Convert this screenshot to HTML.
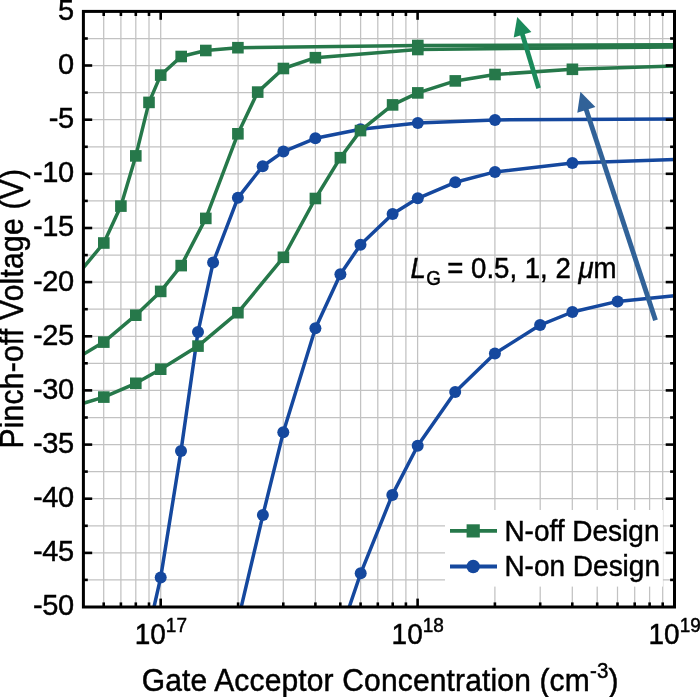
<!DOCTYPE html>
<html><head><meta charset="utf-8"><title>Pinch-off Voltage vs Gate Acceptor Concentration</title>
<style>html,body{margin:0;padding:0;background:#fff}svg{display:block}text{font-family:"Liberation Sans",Arial,Helvetica,sans-serif;fill:#000;stroke:#000;stroke-width:0.45px}</style></head><body>
<svg width="700" height="697" viewBox="0 0 700 697">
<rect width="700" height="697" fill="#fff"/>
<defs><clipPath id="c"><rect x="83.4" y="11.4" width="591.1" height="595.6"/></clipPath></defs>
<g stroke="#c2c2c2" stroke-width="1.25" fill="none">
<line x1="103.7" y1="11.4" x2="103.7" y2="607.0"/>
<line x1="120.9" y1="11.4" x2="120.9" y2="607.0"/>
<line x1="135.8" y1="11.4" x2="135.8" y2="607.0"/>
<line x1="149.0" y1="11.4" x2="149.0" y2="607.0"/>
<line x1="160.7" y1="11.4" x2="160.7" y2="607.0"/>
<line x1="238.1" y1="11.4" x2="238.1" y2="607.0"/>
<line x1="283.3" y1="11.4" x2="283.3" y2="607.0"/>
<line x1="315.4" y1="11.4" x2="315.4" y2="607.0"/>
<line x1="340.3" y1="11.4" x2="340.3" y2="607.0"/>
<line x1="360.6" y1="11.4" x2="360.6" y2="607.0"/>
<line x1="377.8" y1="11.4" x2="377.8" y2="607.0"/>
<line x1="392.7" y1="11.4" x2="392.7" y2="607.0"/>
<line x1="405.9" y1="11.4" x2="405.9" y2="607.0"/>
<line x1="417.6" y1="11.4" x2="417.6" y2="607.0"/>
<line x1="494.9" y1="11.4" x2="494.9" y2="607.0"/>
<line x1="540.2" y1="11.4" x2="540.2" y2="607.0"/>
<line x1="572.3" y1="11.4" x2="572.3" y2="607.0"/>
<line x1="597.2" y1="11.4" x2="597.2" y2="607.0"/>
<line x1="617.5" y1="11.4" x2="617.5" y2="607.0"/>
<line x1="634.7" y1="11.4" x2="634.7" y2="607.0"/>
<line x1="649.6" y1="11.4" x2="649.6" y2="607.0"/>
<line x1="662.7" y1="11.4" x2="662.7" y2="607.0"/>
<line x1="83.4" y1="38.5" x2="674.5" y2="38.5"/>
<line x1="83.4" y1="65.5" x2="674.5" y2="65.5"/>
<line x1="83.4" y1="92.6" x2="674.5" y2="92.6"/>
<line x1="83.4" y1="119.7" x2="674.5" y2="119.7"/>
<line x1="83.4" y1="146.8" x2="674.5" y2="146.8"/>
<line x1="83.4" y1="173.8" x2="674.5" y2="173.8"/>
<line x1="83.4" y1="200.9" x2="674.5" y2="200.9"/>
<line x1="83.4" y1="228.0" x2="674.5" y2="228.0"/>
<line x1="83.4" y1="255.1" x2="674.5" y2="255.1"/>
<line x1="83.4" y1="282.1" x2="674.5" y2="282.1"/>
<line x1="83.4" y1="309.2" x2="674.5" y2="309.2"/>
<line x1="83.4" y1="336.3" x2="674.5" y2="336.3"/>
<line x1="83.4" y1="363.3" x2="674.5" y2="363.3"/>
<line x1="83.4" y1="390.4" x2="674.5" y2="390.4"/>
<line x1="83.4" y1="417.5" x2="674.5" y2="417.5"/>
<line x1="83.4" y1="444.6" x2="674.5" y2="444.6"/>
<line x1="83.4" y1="471.6" x2="674.5" y2="471.6"/>
<line x1="83.4" y1="498.7" x2="674.5" y2="498.7"/>
<line x1="83.4" y1="525.8" x2="674.5" y2="525.8"/>
<line x1="83.4" y1="552.9" x2="674.5" y2="552.9"/>
<line x1="83.4" y1="579.9" x2="674.5" y2="579.9"/>
</g>
<rect x="445" y="510" width="217.9" height="76.6" fill="#fff"/>
<g clip-path="url(#c)">
<polyline fill="none" stroke="#15489e" stroke-width="3.5" stroke-linejoin="round" points="149.0,629.0 160.7,577.4 181.0,450.9 198.0,332.1 213.1,262.6 237.9,197.8 262.7,166.2 283.4,151.6 315.4,138.3 360.5,129.3 417.8,123.0 495.0,119.9 674.5,118.9 700.0,118.8"/>
</g>
<circle cx="160.7" cy="577.4" r="6" fill="#15489e"/>
<circle cx="181.0" cy="450.9" r="6" fill="#15489e"/>
<circle cx="198.0" cy="332.1" r="6" fill="#15489e"/>
<circle cx="213.1" cy="262.6" r="6" fill="#15489e"/>
<circle cx="237.9" cy="197.8" r="6" fill="#15489e"/>
<circle cx="262.7" cy="166.2" r="6" fill="#15489e"/>
<circle cx="283.4" cy="151.6" r="6" fill="#15489e"/>
<circle cx="315.4" cy="138.3" r="6" fill="#15489e"/>
<circle cx="360.5" cy="129.3" r="6" fill="#15489e"/>
<circle cx="417.8" cy="123.0" r="6" fill="#15489e"/>
<circle cx="495.0" cy="119.9" r="6" fill="#15489e"/>
<g clip-path="url(#c)">
<polyline fill="none" stroke="#15489e" stroke-width="3.5" stroke-linejoin="round" points="237.9,621.1 262.9,515.1 283.3,432.3 315.4,328.3 340.4,274.3 360.5,244.7 392.6,214.1 417.8,198.3 455.3,182.3 495.0,171.9 572.4,163.0 674.5,159.6 700.0,159.3"/>
</g>
<circle cx="262.9" cy="515.1" r="6" fill="#15489e"/>
<circle cx="283.3" cy="432.3" r="6" fill="#15489e"/>
<circle cx="315.4" cy="328.3" r="6" fill="#15489e"/>
<circle cx="340.4" cy="274.3" r="6" fill="#15489e"/>
<circle cx="360.5" cy="244.7" r="6" fill="#15489e"/>
<circle cx="392.6" cy="214.1" r="6" fill="#15489e"/>
<circle cx="417.8" cy="198.3" r="6" fill="#15489e"/>
<circle cx="455.3" cy="182.3" r="6" fill="#15489e"/>
<circle cx="495.0" cy="171.9" r="6" fill="#15489e"/>
<circle cx="572.4" cy="163.0" r="6" fill="#15489e"/>
<g clip-path="url(#c)">
<polyline fill="none" stroke="#15489e" stroke-width="3.5" stroke-linejoin="round" points="340.4,633.0 360.7,573.3 392.3,494.9 417.7,445.7 455.2,392.1 494.9,353.4 540.1,325.1 572.4,312.0 617.6,301.4 674.5,295.7 700.0,294.0"/>
</g>
<circle cx="360.7" cy="573.3" r="6" fill="#15489e"/>
<circle cx="392.3" cy="494.9" r="6" fill="#15489e"/>
<circle cx="417.7" cy="445.7" r="6" fill="#15489e"/>
<circle cx="455.2" cy="392.1" r="6" fill="#15489e"/>
<circle cx="494.9" cy="353.4" r="6" fill="#15489e"/>
<circle cx="540.1" cy="325.1" r="6" fill="#15489e"/>
<circle cx="572.4" cy="312.0" r="6" fill="#15489e"/>
<circle cx="617.6" cy="301.4" r="6" fill="#15489e"/>
<g clip-path="url(#c)">
<polyline fill="none" stroke="#26784a" stroke-width="3.5" stroke-linejoin="round" points="58.5,290.0 83.4,267.6 103.8,243.0 120.9,206.1 135.8,155.9 149.0,102.4 160.7,75.1 181.2,56.5 205.8,50.5 237.9,47.7 417.8,45.5 674.5,44.8 700.0,44.8"/>
</g>
<rect x="98.0" y="237.2" width="11.6" height="11.6" fill="#26784a"/>
<rect x="115.1" y="200.3" width="11.6" height="11.6" fill="#26784a"/>
<rect x="130.0" y="150.1" width="11.6" height="11.6" fill="#26784a"/>
<rect x="143.2" y="96.6" width="11.6" height="11.6" fill="#26784a"/>
<rect x="154.9" y="69.3" width="11.6" height="11.6" fill="#26784a"/>
<rect x="175.4" y="50.7" width="11.6" height="11.6" fill="#26784a"/>
<rect x="200.0" y="44.7" width="11.6" height="11.6" fill="#26784a"/>
<rect x="232.1" y="41.9" width="11.6" height="11.6" fill="#26784a"/>
<rect x="412.0" y="39.7" width="11.6" height="11.6" fill="#26784a"/>
<g clip-path="url(#c)">
<polyline fill="none" stroke="#26784a" stroke-width="3.5" stroke-linejoin="round" points="58.5,360.0 83.4,354.3 103.8,342.1 135.8,315.2 160.7,291.4 181.2,265.6 205.8,218.4 237.9,133.8 257.7,92.1 283.4,68.5 315.4,57.7 417.8,49.5 674.5,47.0 700.0,46.9"/>
</g>
<rect x="98.0" y="336.3" width="11.6" height="11.6" fill="#26784a"/>
<rect x="130.0" y="309.4" width="11.6" height="11.6" fill="#26784a"/>
<rect x="154.9" y="285.6" width="11.6" height="11.6" fill="#26784a"/>
<rect x="175.4" y="259.8" width="11.6" height="11.6" fill="#26784a"/>
<rect x="200.0" y="212.6" width="11.6" height="11.6" fill="#26784a"/>
<rect x="232.1" y="128.0" width="11.6" height="11.6" fill="#26784a"/>
<rect x="251.9" y="86.3" width="11.6" height="11.6" fill="#26784a"/>
<rect x="277.6" y="62.7" width="11.6" height="11.6" fill="#26784a"/>
<rect x="309.6" y="51.9" width="11.6" height="11.6" fill="#26784a"/>
<rect x="412.0" y="43.7" width="11.6" height="11.6" fill="#26784a"/>
<g clip-path="url(#c)">
<polyline fill="none" stroke="#26784a" stroke-width="3.5" stroke-linejoin="round" points="58.5,406.0 83.4,403.2 103.8,397.1 135.8,383.3 160.7,369.2 198.0,346.1 237.9,312.7 283.4,257.3 315.4,198.5 340.4,157.7 360.5,130.6 392.6,104.9 417.8,92.9 455.3,80.9 495.0,74.5 572.4,69.3 674.5,65.9 700.0,65.5"/>
</g>
<rect x="98.0" y="391.3" width="11.6" height="11.6" fill="#26784a"/>
<rect x="130.0" y="377.5" width="11.6" height="11.6" fill="#26784a"/>
<rect x="154.9" y="363.4" width="11.6" height="11.6" fill="#26784a"/>
<rect x="192.2" y="340.3" width="11.6" height="11.6" fill="#26784a"/>
<rect x="232.1" y="306.9" width="11.6" height="11.6" fill="#26784a"/>
<rect x="277.6" y="251.5" width="11.6" height="11.6" fill="#26784a"/>
<rect x="309.6" y="192.7" width="11.6" height="11.6" fill="#26784a"/>
<rect x="334.6" y="151.9" width="11.6" height="11.6" fill="#26784a"/>
<rect x="354.7" y="124.8" width="11.6" height="11.6" fill="#26784a"/>
<rect x="386.8" y="99.1" width="11.6" height="11.6" fill="#26784a"/>
<rect x="412.0" y="87.1" width="11.6" height="11.6" fill="#26784a"/>
<rect x="449.5" y="75.1" width="11.6" height="11.6" fill="#26784a"/>
<rect x="489.2" y="68.7" width="11.6" height="11.6" fill="#26784a"/>
<rect x="566.6" y="63.5" width="11.6" height="11.6" fill="#26784a"/>
<line x1="538.6" y1="88.3" x2="522.2" y2="33.8" stroke="#1b8a5b" stroke-width="4.7"/>
<polygon points="517.2,17.0 531.4,32.1 513.7,37.4" fill="#1b8a5b"/>
<line x1="655.5" y1="320.2" x2="586.0" y2="108.9" stroke="#316298" stroke-width="4.9"/>
<polygon points="580.4,91.8 595.4,106.9 577.3,112.8" fill="#316298"/>
<rect x="83.4" y="11.4" width="591.1" height="595.6" fill="none" stroke="#000" stroke-width="3"/>
<g stroke="#000" stroke-width="2.6">
<line x1="83.4" y1="38.5" x2="87.8" y2="38.5"/>
<line x1="674.5" y1="38.5" x2="670.1" y2="38.5"/>
<line x1="83.4" y1="65.5" x2="92.2" y2="65.5"/>
<line x1="674.5" y1="65.5" x2="665.7" y2="65.5"/>
<line x1="83.4" y1="92.6" x2="87.8" y2="92.6"/>
<line x1="674.5" y1="92.6" x2="670.1" y2="92.6"/>
<line x1="83.4" y1="119.7" x2="92.2" y2="119.7"/>
<line x1="674.5" y1="119.7" x2="665.7" y2="119.7"/>
<line x1="83.4" y1="146.8" x2="87.8" y2="146.8"/>
<line x1="674.5" y1="146.8" x2="670.1" y2="146.8"/>
<line x1="83.4" y1="173.8" x2="92.2" y2="173.8"/>
<line x1="674.5" y1="173.8" x2="665.7" y2="173.8"/>
<line x1="83.4" y1="200.9" x2="87.8" y2="200.9"/>
<line x1="674.5" y1="200.9" x2="670.1" y2="200.9"/>
<line x1="83.4" y1="228.0" x2="92.2" y2="228.0"/>
<line x1="674.5" y1="228.0" x2="665.7" y2="228.0"/>
<line x1="83.4" y1="255.1" x2="87.8" y2="255.1"/>
<line x1="674.5" y1="255.1" x2="670.1" y2="255.1"/>
<line x1="83.4" y1="282.1" x2="92.2" y2="282.1"/>
<line x1="674.5" y1="282.1" x2="665.7" y2="282.1"/>
<line x1="83.4" y1="309.2" x2="87.8" y2="309.2"/>
<line x1="674.5" y1="309.2" x2="670.1" y2="309.2"/>
<line x1="83.4" y1="336.3" x2="92.2" y2="336.3"/>
<line x1="674.5" y1="336.3" x2="665.7" y2="336.3"/>
<line x1="83.4" y1="363.3" x2="87.8" y2="363.3"/>
<line x1="674.5" y1="363.3" x2="670.1" y2="363.3"/>
<line x1="83.4" y1="390.4" x2="92.2" y2="390.4"/>
<line x1="674.5" y1="390.4" x2="665.7" y2="390.4"/>
<line x1="83.4" y1="417.5" x2="87.8" y2="417.5"/>
<line x1="674.5" y1="417.5" x2="670.1" y2="417.5"/>
<line x1="83.4" y1="444.6" x2="92.2" y2="444.6"/>
<line x1="674.5" y1="444.6" x2="665.7" y2="444.6"/>
<line x1="83.4" y1="471.6" x2="87.8" y2="471.6"/>
<line x1="674.5" y1="471.6" x2="670.1" y2="471.6"/>
<line x1="83.4" y1="498.7" x2="92.2" y2="498.7"/>
<line x1="674.5" y1="498.7" x2="665.7" y2="498.7"/>
<line x1="83.4" y1="525.8" x2="87.8" y2="525.8"/>
<line x1="674.5" y1="525.8" x2="670.1" y2="525.8"/>
<line x1="83.4" y1="552.9" x2="92.2" y2="552.9"/>
<line x1="674.5" y1="552.9" x2="665.7" y2="552.9"/>
<line x1="83.4" y1="579.9" x2="87.8" y2="579.9"/>
<line x1="674.5" y1="579.9" x2="670.1" y2="579.9"/>
<line x1="103.7" y1="11.4" x2="103.7" y2="16.0"/>
<line x1="103.7" y1="607.0" x2="103.7" y2="602.4"/>
<line x1="120.9" y1="11.4" x2="120.9" y2="16.0"/>
<line x1="120.9" y1="607.0" x2="120.9" y2="602.4"/>
<line x1="135.8" y1="11.4" x2="135.8" y2="16.0"/>
<line x1="135.8" y1="607.0" x2="135.8" y2="602.4"/>
<line x1="149.0" y1="11.4" x2="149.0" y2="16.0"/>
<line x1="149.0" y1="607.0" x2="149.0" y2="602.4"/>
<line x1="160.7" y1="11.4" x2="160.7" y2="19.8"/>
<line x1="160.7" y1="607.0" x2="160.7" y2="598.6"/>
<line x1="238.1" y1="11.4" x2="238.1" y2="16.0"/>
<line x1="238.1" y1="607.0" x2="238.1" y2="602.4"/>
<line x1="283.3" y1="11.4" x2="283.3" y2="16.0"/>
<line x1="283.3" y1="607.0" x2="283.3" y2="602.4"/>
<line x1="315.4" y1="11.4" x2="315.4" y2="16.0"/>
<line x1="315.4" y1="607.0" x2="315.4" y2="602.4"/>
<line x1="340.3" y1="11.4" x2="340.3" y2="16.0"/>
<line x1="340.3" y1="607.0" x2="340.3" y2="602.4"/>
<line x1="360.6" y1="11.4" x2="360.6" y2="16.0"/>
<line x1="360.6" y1="607.0" x2="360.6" y2="602.4"/>
<line x1="377.8" y1="11.4" x2="377.8" y2="16.0"/>
<line x1="377.8" y1="607.0" x2="377.8" y2="602.4"/>
<line x1="392.7" y1="11.4" x2="392.7" y2="16.0"/>
<line x1="392.7" y1="607.0" x2="392.7" y2="602.4"/>
<line x1="405.9" y1="11.4" x2="405.9" y2="16.0"/>
<line x1="405.9" y1="607.0" x2="405.9" y2="602.4"/>
<line x1="417.6" y1="11.4" x2="417.6" y2="19.8"/>
<line x1="417.6" y1="607.0" x2="417.6" y2="598.6"/>
<line x1="494.9" y1="11.4" x2="494.9" y2="16.0"/>
<line x1="494.9" y1="607.0" x2="494.9" y2="602.4"/>
<line x1="540.2" y1="11.4" x2="540.2" y2="16.0"/>
<line x1="540.2" y1="607.0" x2="540.2" y2="602.4"/>
<line x1="572.3" y1="11.4" x2="572.3" y2="16.0"/>
<line x1="572.3" y1="607.0" x2="572.3" y2="602.4"/>
<line x1="597.2" y1="11.4" x2="597.2" y2="16.0"/>
<line x1="597.2" y1="607.0" x2="597.2" y2="602.4"/>
<line x1="617.5" y1="11.4" x2="617.5" y2="16.0"/>
<line x1="617.5" y1="607.0" x2="617.5" y2="602.4"/>
<line x1="634.7" y1="11.4" x2="634.7" y2="16.0"/>
<line x1="634.7" y1="607.0" x2="634.7" y2="602.4"/>
<line x1="649.6" y1="11.4" x2="649.6" y2="16.0"/>
<line x1="649.6" y1="607.0" x2="649.6" y2="602.4"/>
<line x1="662.7" y1="11.4" x2="662.7" y2="16.0"/>
<line x1="662.7" y1="607.0" x2="662.7" y2="602.4"/>
</g>
<text x="73.9" y="19.8" font-size="29" letter-spacing="-0.35" text-anchor="end">5</text>
<text x="73.9" y="73.9" font-size="29" letter-spacing="-0.35" text-anchor="end">0</text>
<text x="73.9" y="128.1" font-size="29" letter-spacing="-0.35" text-anchor="end">-5</text>
<text x="73.9" y="182.2" font-size="29" letter-spacing="-0.35" text-anchor="end">-10</text>
<text x="73.9" y="236.4" font-size="29" letter-spacing="-0.35" text-anchor="end">-15</text>
<text x="73.9" y="290.5" font-size="29" letter-spacing="-0.35" text-anchor="end">-20</text>
<text x="73.9" y="344.7" font-size="29" letter-spacing="-0.35" text-anchor="end">-25</text>
<text x="73.9" y="398.8" font-size="29" letter-spacing="-0.35" text-anchor="end">-30</text>
<text x="73.9" y="453.0" font-size="29" letter-spacing="-0.35" text-anchor="end">-35</text>
<text x="73.9" y="507.1" font-size="29" letter-spacing="-0.35" text-anchor="end">-40</text>
<text x="73.9" y="561.3" font-size="29" letter-spacing="-0.35" text-anchor="end">-45</text>
<text x="73.9" y="615.4" font-size="29" letter-spacing="-0.35" text-anchor="end">-50</text>
<text transform="translate(134.7,643.5) scale(1,1.04)" font-size="28">10<tspan font-size="19" dy="-10.9">17</tspan></text>
<text transform="translate(391.6,643.5) scale(1,1.04)" font-size="28">10<tspan font-size="19" dy="-10.9">18</tspan></text>
<text transform="translate(648.5,643.5) scale(1,1.04)" font-size="28">10<tspan font-size="19" dy="-10.9">19</tspan></text>
<text transform="translate(141.7,690.8) scale(1,1.07)" font-size="30" letter-spacing="0.16">Gate Acceptor Concentration (cm<tspan font-size="20.5" dy="-12">-3</tspan><tspan dy="12">)</tspan></text>
<text transform="translate(22.5,448.6) rotate(-90) scale(1,1.08)" font-size="30" letter-spacing="0.25">Pinch-off Voltage (V)</text>
<text transform="translate(410.4,278.4) scale(1,1.06)" font-size="27.6"><tspan font-style="italic">L</tspan><tspan font-size="18.8" dy="6.6" dx="0.4">G</tspan><tspan dy="-6.6" dx="-1.2"> = 0.5, 1, 2 </tspan><tspan font-style="italic">μ</tspan>m</text>
<line x1="450" y1="530.8" x2="497" y2="530.8" stroke="#26784a" stroke-width="3.8"/>
<rect x="466.6" y="524.3" width="13.2" height="13.2" fill="#26784a"/>
<line x1="450" y1="566.5" x2="497" y2="566.5" stroke="#15489e" stroke-width="3.8"/>
<circle cx="473.2" cy="566.5" r="6.7" fill="#15489e"/>
<text transform="translate(504.4,540.9) scale(1,1.045)" font-size="28">N-off Design</text>
<text transform="translate(504.4,575.9) scale(1,1.035)" font-size="28">N-on Design</text>
</svg></body></html>
